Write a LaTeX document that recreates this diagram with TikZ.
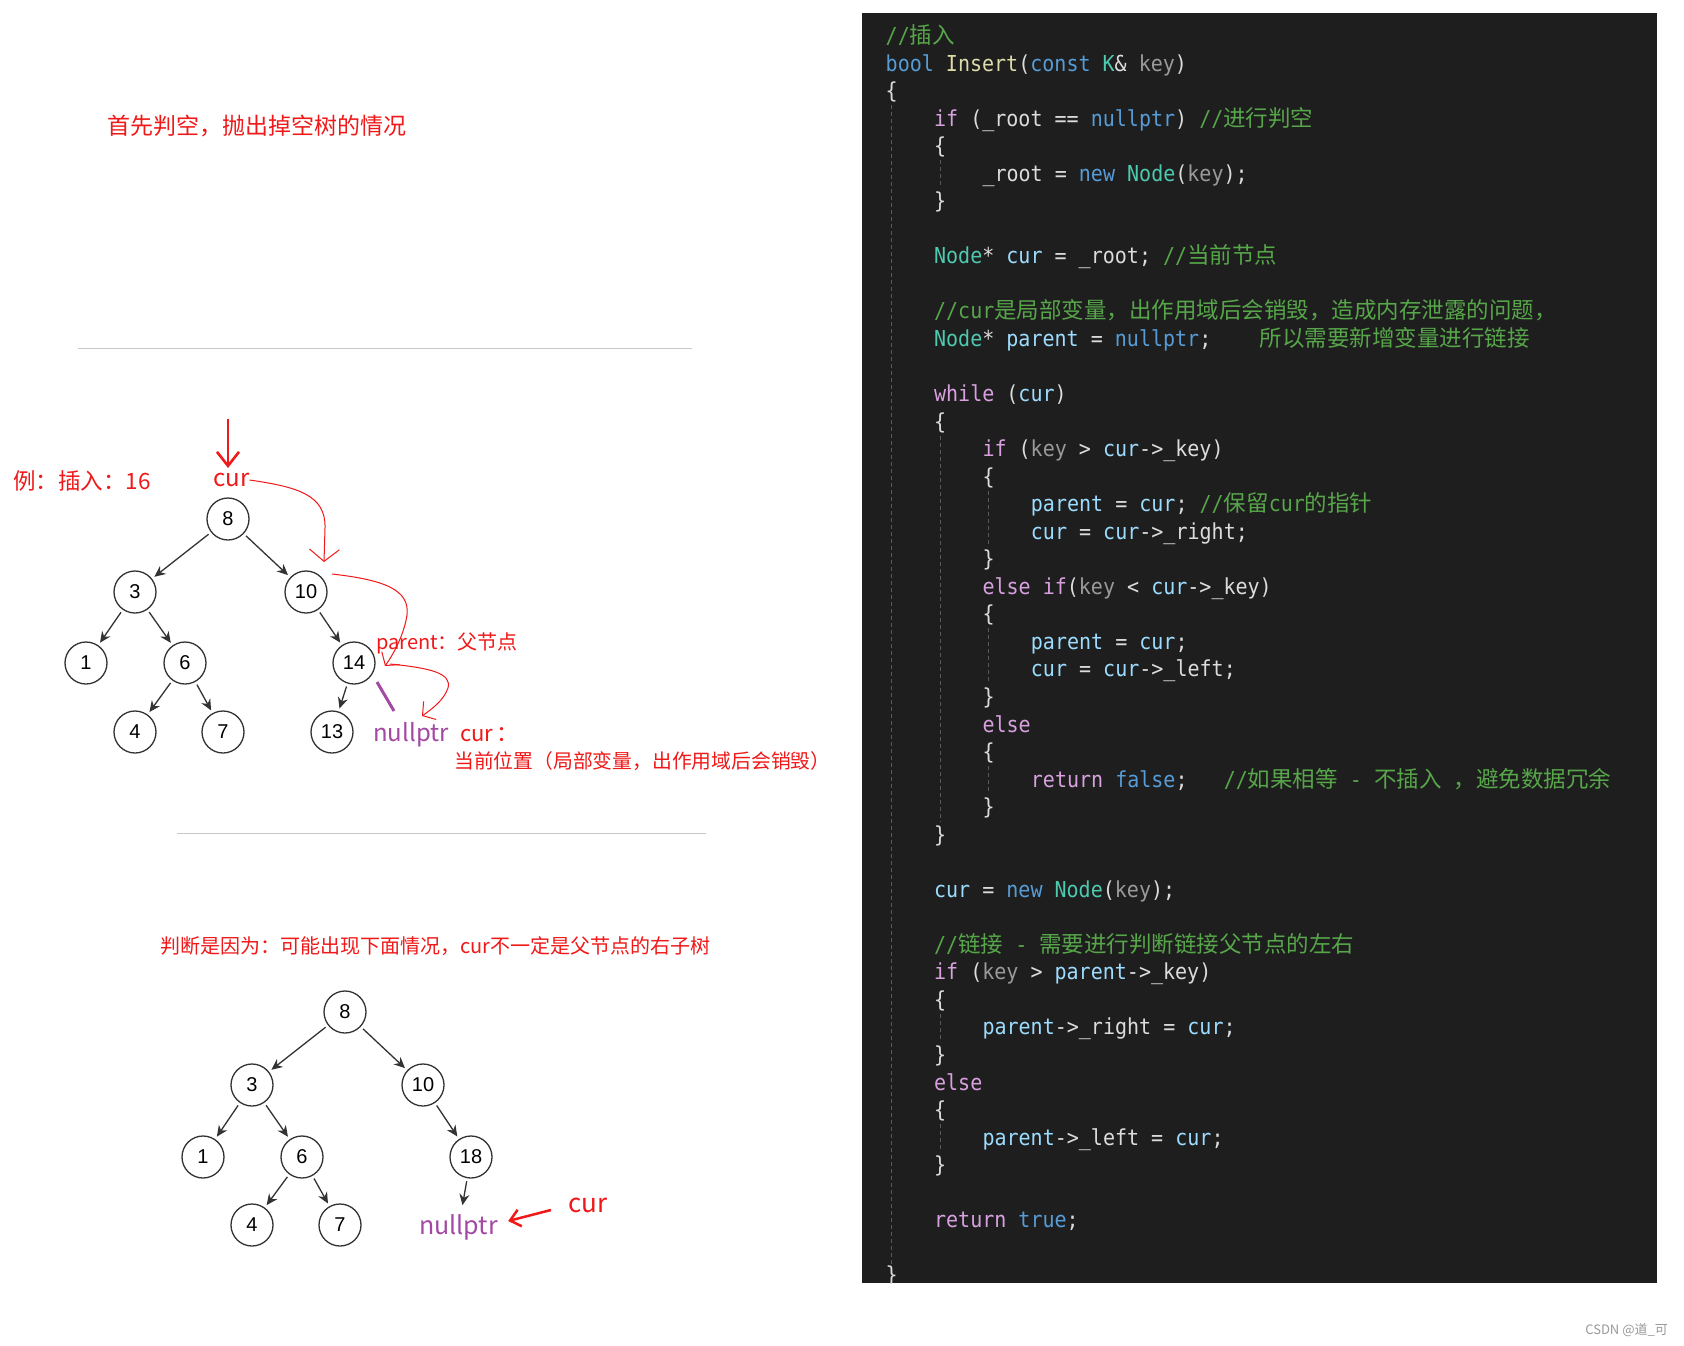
\documentclass[tikz,border=0pt]{standalone}
\usepackage{fontspec}
\usetikzlibrary{arrows.meta}
\newfontfamily\cjk{Noto Sans CJK SC}
\newfontfamily\codefont[FakeStretch=0.91]{DejaVu Sans Mono}
\newfontfamily\numfont{Liberation Sans}
\definecolor{redc}{RGB}{240,24,24}
\definecolor{purp}{HTML}{A349A4}
\definecolor{sepgray}{HTML}{C8C8C8}
\definecolor{codebg}{HTML}{1E1E1E}
\definecolor{guidec}{HTML}{5A5A5A}
\definecolor{plain}{HTML}{DCDCDC}
\definecolor{kwblue}{HTML}{569CD6}
\definecolor{kwpink}{HTML}{D8A0DF}
\definecolor{typteal}{HTML}{4EC9B0}
\definecolor{fnyel}{HTML}{DCDCAA}
\definecolor{varblue}{HTML}{9CDCFE}
\definecolor{prmgray}{HTML}{9A9A9A}
\definecolor{cmtgreen}{HTML}{57A64A}
\newcommand\ckw[1]{\textcolor{kwblue}{#1}}
\newcommand\cctl[1]{\textcolor{kwpink}{#1}}
\newcommand\ctyp[1]{\textcolor{typteal}{#1}}
\newcommand\cfn[1]{\textcolor{fnyel}{#1}}
\newcommand\cvar[1]{\textcolor{varblue}{#1}}
\newcommand\cprm[1]{\textcolor{prmgray}{#1}}
\newcommand\ccmt[1]{\textcolor{cmtgreen}{#1}}
\newcommand\zh[1]{{\fontsize{22.5}{27}\cjk #1}}

\begin{document}
\begin{tikzpicture}[x=1pt,y=-1pt,
  tnode/.style={circle,draw=black!80,line width=1.3pt,minimum size=42pt,inner sep=0pt,font=\fontsize{20}{20}\numfont},
  tedge/.style={draw=black!80,line width=1.3pt,-{Stealth[length=11pt,width=10pt]},shorten <=3pt,shorten >=3pt},
  note/.style={inner sep=0pt,anchor=west,text=redc},
  redarr/.style={draw=redc,line width=1pt},
  codeline/.style={anchor=base west,inner sep=0pt,text=plain,font=\fontsize{22}{27}\codefont},
  guide/.style={draw=guidec,line width=1pt,dash pattern=on 4pt off 3pt}]
\useasboundingbox (0,0) rectangle (1684,1346);
\fill[white] (0,0) rectangle (1684,1346);

\draw[sepgray,line width=1pt] (78,348) -- (692,348);
\draw[sepgray,line width=1pt] (177,833) -- (706,833);

\node[note,font=\fontsize{23}{28}\cjk] (head) at (107,126) {首先判空，抛出掉空树的情况};
\node[note,font=\fontsize{22.5}{28}\cjk] (ex) at (13,481) {例：插入：16};
\node[note,font=\fontsize{24}{28}\cjk] (cur1) at (213,480) {cur};
\node[note,font=\fontsize{20}{26}\cjk] (par) at (376,643) {parent：父节点};
\node[note,text=purp,font=\fontsize{24}{28}\cjk] (np1) at (373,735) {nullptr};
\node[note,font=\fontsize{22}{26}\cjk] (cur1b) at (460,735) {cur\,：};
\node[note,font=\fontsize{19.8}{24}\cjk] (pos) at (454,761) {当前位置（局部变量，出作用域后会销毁）};
\node[note,font=\fontsize{20}{25}\cjk] (why) at (160,946) {判断是因为：可能出现下面情况，cur不一定是父节点的右子树};
\node[note,text=purp,font=\fontsize{25}{30}\cjk] (np2) at (419,1227) {nullptr};
\node[note,font=\fontsize{26}{30}\cjk] (cur2) at (568,1205) {cur};

\node[tnode] (t8) at (228,519) {8};
\node[tnode] (t3) at (135,592) {3};
\node[tnode] (t10) at (306,592) {10};
\node[tnode] (t1) at (86,663) {1};
\node[tnode] (t6) at (185,663) {6};
\node[tnode] (t14) at (354,663) {14};
\node[tnode] (t4) at (135,732) {4};
\node[tnode] (t7) at (223,732) {7};
\node[tnode] (t13) at (332,732) {13};
\foreach \a/\b in {t8/t3,t8/t10,t3/t1,t3/t6,t6/t4,t6/t7,t10/t14,t14/t13}
  \draw[tedge] (\a) -- (\b);

\node[tnode] (s8) at (345,1012) {8};
\node[tnode] (s3) at (252,1085) {3};
\node[tnode] (s10) at (423,1085) {10};
\node[tnode] (s1) at (203,1157) {1};
\node[tnode] (s6) at (302,1157) {6};
\node[tnode] (s18) at (471,1157) {18};
\node[tnode] (s4) at (252,1225) {4};
\node[tnode] (s7) at (340,1225) {7};
\foreach \a/\b in {s8/s3,s8/s10,s3/s1,s3/s6,s6/s4,s6/s7,s10/s18}
  \draw[tedge] (\a) -- (\b);
\draw[tedge,shorten >=9pt] (s18) -- (np2);

\coordinate (dn) at (228,419);
\draw[redc,line width=2.6pt,-{Straight Barb[length=14pt,width=22pt]},shorten >=5pt] (dn) -- (dn |- cur1.north);
\coordinate (a1) at (324,562);
\draw[redarr,-{Straight Barb[length=12pt,width=30pt]}] (cur1.east) .. controls (298,487) and (326,495) .. (325,528) -- (a1);
\coordinate (b0) at (332,574);
\coordinate (b1) at (385,666);
\draw[redarr,-{Straight Barb[length=9pt,width=22pt]}] (b0) .. controls (385,580) and (410,590) .. (407,615) .. controls (404,635) and (393,655) .. (b1);
\coordinate (c0) at (390,664);
\coordinate (c1) at (422,716);
\draw[redarr,-{Straight Barb[length=9pt,width=22pt]}] (c0) .. controls (430,668) and (452,673) .. (448,688) .. controls (444,700) and (432,709) .. (c1);
\draw[purp,line width=3pt] ([shift={(23pt,-19pt)}]t14.center) -- ([shift={(40pt,-48pt)}]t14.center);
\draw[redc,line width=2.5pt,-{Straight Barb[length=10pt,width=17pt]}] ([xshift=-17pt,yshift=-5pt]cur2.west) -- ([xshift=10pt,yshift=6pt]np2.east);

\fill[codebg] (862,13) rectangle (1657,1283);
\begin{scope}
\clip (862,13) rectangle (1657,1283);
\draw[guide] (891,105) -- (891,1264);
\draw[guide] (940,160) -- (940,188);
\draw[guide] (940,436) -- (940,822);
\draw[guide] (940,1014) -- (940,1042);
\draw[guide] (940,1124) -- (940,1152);
\draw[guide] (988,491) -- (988,546);
\draw[guide] (988,628) -- (988,684);
\draw[guide] (988,766) -- (988,794);
\foreach \ii/\nn/\txt in {
  0/0/{\ccmt{//\zh{插入}}},
  0/1/{\ckw{bool} \cfn{Insert}(\ckw{const} \ctyp{K}\& \cprm{key})},
  0/2/{\{},
  1/3/{\cctl{if} (\_root == \ckw{nullptr}) \ccmt{//\zh{进行判空}}},
  1/4/{\{},
  2/5/{\_root = \ckw{new} \ctyp{Node}(\cprm{key});},
  1/6/{\}},
  1/8/{\ctyp{Node}* \cvar{cur} = \_root; \ccmt{//\zh{当前节点}}},
  1/10/{\ccmt{//cur\zh{是局部变量，出作用域后会销毁，造成内存泄露的问题，}}},
  1/11/{\ctyp{Node}* \cvar{parent} = \ckw{nullptr};~~~~\ccmt{\zh{所以需要新增变量进行链接}}},
  1/13/{\cctl{while} (\cvar{cur})},
  1/14/{\{},
  2/15/{\cctl{if} (\cprm{key} > \cvar{cur}->\_key)},
  2/16/{\{},
  3/17/{\cvar{parent} = \cvar{cur}; \ccmt{//\zh{保留}cur\zh{的指针}}},
  3/18/{\cvar{cur} = \cvar{cur}->\_right;},
  2/19/{\}},
  2/20/{\cctl{else} \cctl{if}(\cprm{key} < \cvar{cur}->\_key)},
  2/21/{\{},
  3/22/{\cvar{parent} = \cvar{cur};},
  3/23/{\cvar{cur} = \cvar{cur}->\_left;},
  2/24/{\}},
  2/25/{\cctl{else}},
  2/26/{\{},
  3/27/{\cctl{return} \ckw{false};~~~\ccmt{//\zh{如果相等} - \zh{不插入} \zh{，避免数据冗余}}},
  2/28/{\}},
  1/29/{\}},
  1/31/{\cvar{cur} = \ckw{new} \ctyp{Node}(\cprm{key});},
  1/33/{\ccmt{//\zh{链接} - \zh{需要进行判断链接父节点的左右}}},
  1/34/{\cctl{if} (\cprm{key} > \cvar{parent}->\_key)},
  1/35/{\{},
  2/36/{\cvar{parent}->\_right = \cvar{cur};},
  1/37/{\}},
  1/38/{\cctl{else}},
  1/39/{\{},
  2/40/{\cvar{parent}->\_left = \cvar{cur};},
  1/41/{\}},
  1/43/{\cctl{return} \ckw{true};},
  0/45/{\}}
}
  \node[codeline] (l\nn) at ({885.5+48.4*\ii},{43.5+27.54*\nn}) {\txt};
\end{scope}

\node[anchor=east,inner sep=0pt,text=black!40,font=\fontsize{13}{15}\cjk] (wm) at (1668,1330) {CSDN @道\_可};
\end{tikzpicture}
\end{document}
